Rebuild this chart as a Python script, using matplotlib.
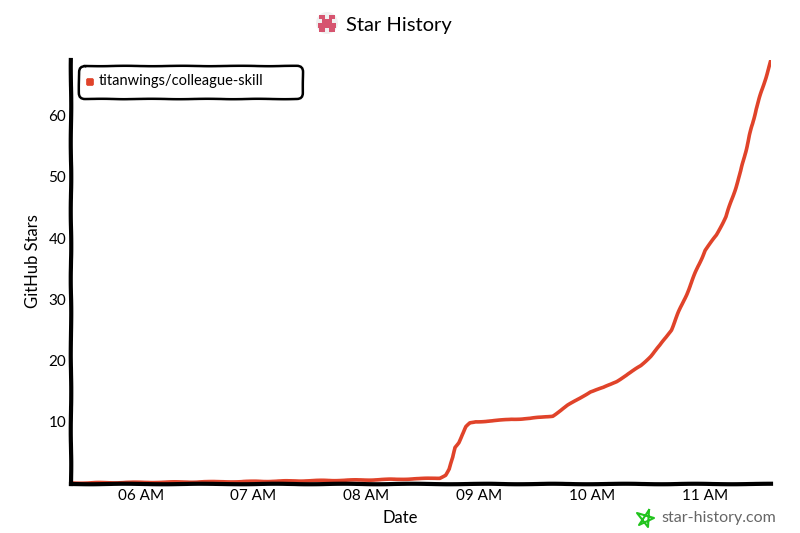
import matplotlib
matplotlib.use("Agg")
import matplotlib.pyplot as plt
import matplotlib.dates as mdates
import pandas as pd
from matplotlib.patches import Circle, Rectangle, FancyBboxPatch
from matplotlib.lines import Line2D

title = "Star History"
repo = "titanwings/colleague-skill"
x_label = "Date"
y_label = "GitHub Stars"
credit = "star-history.com"
y_ticks = [10, 20, 30, 40, 50, 60]

times = ["05:23", "06:00", "07:00", "08:00", "08:28", "08:39", "08:42", "08:44",
         "08:46", "08:47", "08:49", "08:51", "08:53", "08:55", "08:58", "09:07",
         "09:17", "09:27", "09:39", "09:43", "09:47", "09:53", "09:59", "10:06",
         "10:13", "10:20", "10:26", "10:31", "10:36", "10:42", "10:46", "10:50",
         "10:55", "11:00", "11:06", "11:11", "11:15", "11:19", "11:23", "11:27",
         "11:31", "11:35"]
stars = [0.0, 0.1, 0.25, 0.5, 0.7, 0.8, 1.3, 2.3,
         4.2, 5.8, 6.6, 8.0, 9.2, 9.8, 10.0, 10.15,
         10.4, 10.55, 10.95, 11.8, 12.7, 13.8, 14.9, 15.6,
         16.6, 18.0, 19.2, 20.7, 22.5, 25.0, 28.0, 30.7,
         34.5, 38.0, 40.5, 43.5, 47.0, 51.0, 56.0, 61.0,
         65.0, 69.0]

W, H = 800, 533
LEFT, RIGHT, TOP, BOTTOM = 71, 771, 60, 484
FONT = ["Lato", "DejaVu Sans"]
plt.rcParams["font.family"] = FONT

fig = plt.figure(figsize=(W / 100, H / 100), dpi=100, facecolor="white")
ax = fig.add_axes([LEFT / W, 1 - BOTTOM / H, (RIGHT - LEFT) / W, (BOTTOM - TOP) / H])

xs = pd.to_datetime(["2026-04-04 " + t for t in times])
line, = ax.plot(xs, stars, color="#e0432a", lw=2.6, solid_capstyle="round",
                solid_joinstyle="round", label=repo)
line.set_sketch_params(0.3, 40, 2)

ax.set_xlim(pd.Timestamp("2026-04-04 05:23"), pd.Timestamp("2026-04-04 11:35"))
ax.set_ylim(-0.16, 69.1)
ax.set_yticks(y_ticks)
ax.xaxis.set_major_locator(mdates.HourLocator())
ax.xaxis.set_major_formatter(mdates.DateFormatter("%I %p"))
ax.tick_params(axis="both", length=0, labelsize=11, pad=3.5)
ax.set_xlabel(x_label, fontsize=12)
ax.set_ylabel(y_label, fontsize=12)
ax.xaxis.set_label_coords(0.47, -0.061)
ax.yaxis.set_label_coords(-0.043, 0.525)

for s in ("top", "right"):
    ax.spines[s].set_visible(False)
for s in ("left", "bottom"):
    ax.spines[s].set_linewidth(3)
    ax.spines[s].set_sketch_params(0.25, 80, 2)

# Pixel-coordinate overlay for legend, title icon and credit
ov = fig.add_axes([0, 0, 1, 1], facecolor="none")
ov.set_xlim(0, W)
ov.set_ylim(H, 0)
ov.axis("off")

box = FancyBboxPatch((82, 69), 218, 27, boxstyle="round,pad=3,rounding_size=6",
                     fc="white", ec="black", lw=1.8)
box.set_sketch_params(0.2, 60, 2)
ov.add_patch(box)
ov.add_patch(FancyBboxPatch((87, 79), 6, 6, boxstyle="round,pad=0.5,rounding_size=1.5",
                            fc="#e0432a", ec="#e0432a", lw=0.5))
ov.text(99, 80.5, repo, fontsize=10.5, va="center", ha="left")

ov.add_patch(Circle((327, 23), 11, fc="#f0f0f0", ec="none"))
pink = "#d6546f"
for x0, y0, w, h in [(319, 15, 6, 4), (329, 15, 6, 4), (322, 19, 10, 4),
                     (318, 23, 18, 5), (319, 28, 6, 4), (329, 28, 6, 4)]:
    ov.add_patch(Rectangle((x0, y0), w, h, fc=pink, ec="none", antialiased=False))
ov.text(346, 25.5, title, fontsize=14.5, va="center", ha="left")

star_x = [649, 648, 637, 654, 639, 649]
star_y = [510, 527, 513, 518, 525, 510]
star = Line2D(star_x, star_y, color="#22c41e", lw=1.5)
ov.add_line(star)
ov.text(661, 518, credit, fontsize=11.5, color="#666666", va="center", ha="left")

fig.savefig("out.png", dpi=100, facecolor="white")
